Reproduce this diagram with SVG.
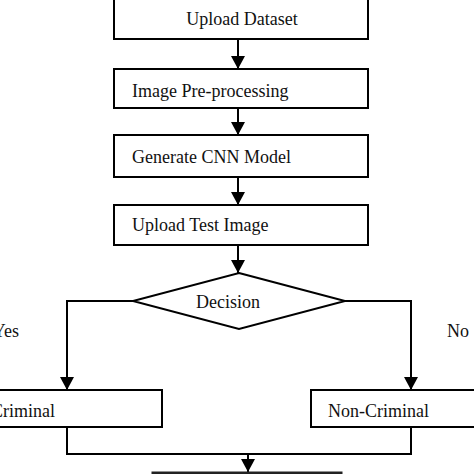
<svg xmlns="http://www.w3.org/2000/svg" width="474" height="474" viewBox="0 0 474 474">
<defs>
<marker id="ah" markerWidth="14" markerHeight="15" refX="13" refY="7" orient="auto" markerUnits="userSpaceOnUse">
<path d="M0,0 L13,7 L0,14 Z" fill="#000"/>
</marker>
<style>
.box{fill:#fff;stroke:#000;stroke-width:2}
.ln{fill:none;stroke:#000;stroke-width:2}
text{font-family:"Liberation Serif","Times New Roman",serif;font-size:18px;fill:#111}
</style>
</defs>
<rect width="474" height="474" fill="#fff"/>
<g id="connectors">
<line class="ln" x1="238" y1="39" x2="238" y2="69" marker-end="url(#ah)"/>
<line class="ln" x1="238" y1="108" x2="238" y2="135" marker-end="url(#ah)"/>
<line class="ln" x1="238" y1="177" x2="238" y2="205" marker-end="url(#ah)"/>
<line class="ln" x1="238" y1="245" x2="238" y2="273" marker-end="url(#ah)"/>
<polyline class="ln" points="134,301 67,301 67,390" marker-end="url(#ah)"/>
<polyline class="ln" points="344,301 411,301 411,390" marker-end="url(#ah)"/>
<polyline class="ln" points="67,427 67,454 411,454 411,427"/>
<line class="ln" x1="248" y1="454" x2="248" y2="472" marker-end="url(#ah)"/>
<text x="19" y="337" text-anchor="end">Yes</text>
<text x="447" y="337">No</text>
</g>
<g id="upload-dataset">
<rect class="box" x="114" y="-5" width="254" height="44"/>
<text x="242" y="25" text-anchor="middle">Upload Dataset</text>
</g>
<g id="preprocessing">
<rect class="box" x="114" y="69" width="254" height="39"/>
<text x="132" y="97">Image Pre-processing</text>
</g>
<g id="cnn-model">
<rect class="box" x="114" y="135" width="254" height="42"/>
<text x="132" y="163">Generate CNN Model</text>
</g>
<g id="test-image">
<rect class="box" x="114" y="205" width="254" height="40"/>
<text x="132" y="231">Upload Test Image</text>
</g>
<g id="decision">
<polygon class="box" points="239,273 345,301 239,329 133,301"/>
<text x="228" y="308" text-anchor="middle">Decision</text>
</g>
<g id="criminal">
<rect class="box" x="-5" y="390" width="167" height="37"/>
<text x="55" y="417" text-anchor="end">Criminal</text>
</g>
<g id="non-criminal">
<rect class="box" x="311" y="390" width="170" height="37"/>
<text x="328" y="417">Non-Criminal</text>
</g>
<g id="result">
<rect x="153" y="473" width="188" height="10" fill="#fff" stroke="#222" stroke-width="3"/>
</g>
</svg>
